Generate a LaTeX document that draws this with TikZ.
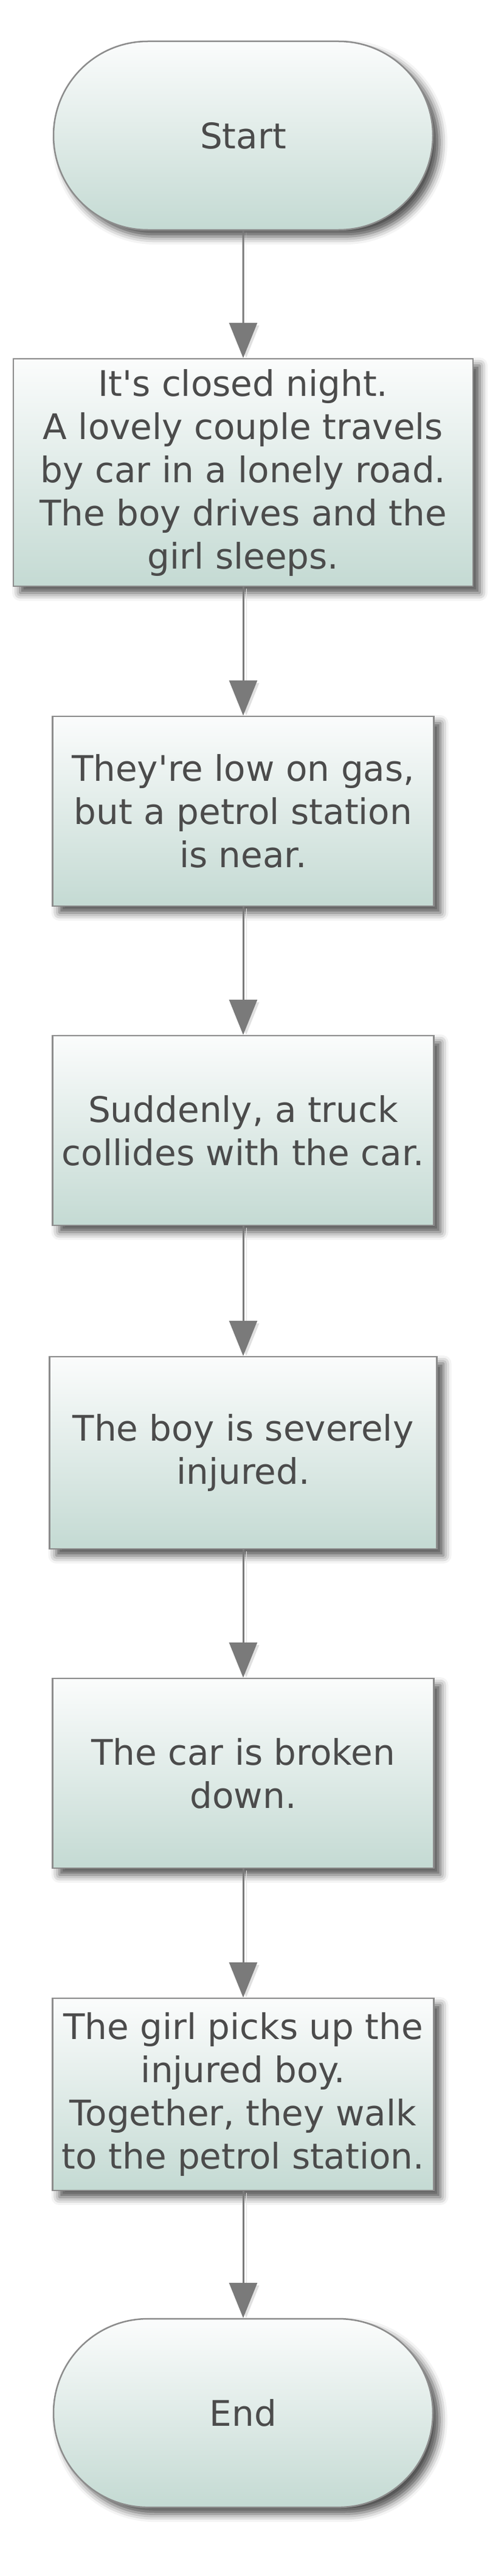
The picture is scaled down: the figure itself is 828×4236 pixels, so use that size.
\documentclass[tikz,border=0pt]{standalone}
\usepackage{fontspec}
\newfontfamily\boxfont{DejaVu Sans}
\usepackage{tikz}
\usetikzlibrary{arrows.meta}
\usetikzlibrary{shapes.misc}
\usetikzlibrary{shadows.blur}

\definecolor{boxtop}{HTML}{FBFCFC}
\definecolor{boxbottom}{HTML}{C4DAD3}
\definecolor{boxline}{HTML}{8C8C8C}
\definecolor{flowline}{HTML}{7A7A7A}
\definecolor{textgray}{HTML}{4B4B4B}

\begin{document}
\begin{tikzpicture}[x=1pt, y=-1pt,
		base/.style={draw=boxline, line width=2.5pt, top color=boxtop, bottom color=boxbottom,
			text=textgray, font=\boxfont\fontsize{58}{71}\selectfont, align=center, inner sep=4pt,
			blur shadow={shadow xshift=11pt, shadow yshift=-11pt, shadow blur radius=13pt, shadow opacity=70}},
		terminal/.style={base, rounded rectangle, minimum width=632pt, minimum height=310pt},
		event/.style={base, rectangle, minimum width=627pt, minimum height=312pt},
		flow/.style={draw=flowline, line width=3pt, -{Triangle[width=46pt,length=58pt]},
			preaction={draw=black!12, transform canvas={xshift=5pt, yshift=-3pt}}}]
		\useasboundingbox (0,0) rectangle (828,4236);
		
		\node[terminal] (start) at (400,223)  {Start};
		\node[event, minimum width=756pt, minimum height=374pt] (night) at (400,777)
			{It's closed night.\\A lovely couple travels\\by car in a lonely road.\\The boy drives and the\\girl sleeps.};
		\node[event] (gas)   at (400,1334) {They're low on gas,\\but a petrol station\\is near.};
		\node[event] (truck) at (400,1859) {Suddenly, a truck\\collides with the car.};
		\node[event, minimum width=637pt, minimum height=316pt] (injured) at (400,2389) {The boy is severely\\injured.};
		\node[event] (broken) at (400,2916) {The car is broken\\down.};
		\node[event, minimum height=316pt] (walk) at (400,3444)
			{The girl picks up the\\injured boy.\\Together, they walk\\to the petrol station.};
		\node[terminal] (end) at (400,3968) {End};
		
		\draw[flow] (start)   -- (night);
		\draw[flow] (night)   -- (gas);
		\draw[flow] (gas)     -- (truck);
		\draw[flow] (truck)   -- (injured);
		\draw[flow] (injured) -- (broken);
		\draw[flow] (broken)  -- (walk);
		\draw[flow] (walk)    -- (end);
\end{tikzpicture}
\end{document}
